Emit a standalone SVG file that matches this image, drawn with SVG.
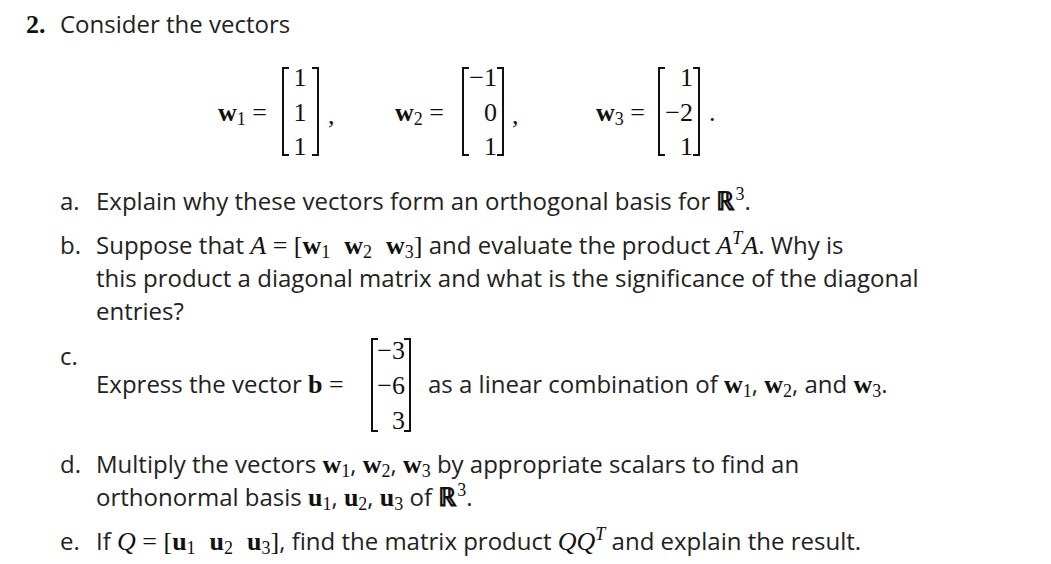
<svg xmlns="http://www.w3.org/2000/svg" width="1051" height="564" viewBox="0 0 1051 564">
<style>
.t{font-family:"Open Sans",sans-serif;font-size:24px;fill:#222}
.m{font-family:"Liberation Serif","DejaVu Serif",serif;font-size:26px;fill:#111}
.mi{font-family:"Liberation Serif","DejaVu Serif",serif;font-size:26px;font-style:italic;fill:#111}
.b{font-weight:bold}
.s{font-size:18px;font-weight:normal}
.sub{baseline-shift:-4px}
.br{fill:none;stroke:#111;stroke-width:2}
</style>
<rect width="1051" height="564" fill="#fff"/>
<text x="26" y="33" class="m b">2.</text>
<text x="60" y="33" class="t">Consider the vectors</text>

<g id="w1">
<text x="218" y="121" class="m b">w<tspan class="s sub">1</tspan><tspan font-weight="normal"> =</tspan></text>
<path class="br" d="M289,68 h-6 v87 h6 M312,68 h6 v87 h-6"/>
<text x="300" y="86" class="m" text-anchor="middle">1</text>
<text x="300" y="121" class="m" text-anchor="middle">1</text>
<text x="300" y="155" class="m" text-anchor="middle">1</text>
<text x="328" y="124" class="m">,</text>
</g>
<g id="w2">
<text x="395" y="121" class="m b">w<tspan class="s sub">2</tspan><tspan font-weight="normal"> =</tspan></text>
<path class="br" d="M469,68 h-6 v87 h6 M497,68 h6 v87 h-6"/>
<text x="497" y="86" class="m" text-anchor="end">−1</text>
<text x="497" y="121" class="m" text-anchor="end">0</text>
<text x="497" y="155" class="m" text-anchor="end">1</text>
<text x="512" y="124" class="m">,</text>
</g>
<g id="w3">
<text x="596" y="121" class="m b">w<tspan class="s sub">3</tspan><tspan font-weight="normal"> =</tspan></text>
<path class="br" d="M665,68 h-6 v87 h6 M693,68 h6 v87 h-6"/>
<text x="693" y="86" class="m" text-anchor="end">1</text>
<text x="693" y="121" class="m" text-anchor="end">−2</text>
<text x="693" y="155" class="m" text-anchor="end">1</text>
<text x="709" y="121" class="m">.</text>
</g>

<text x="60" y="210" class="t">a.</text>
<text x="96" y="210" class="t">Explain why these vectors form an orthogonal basis for <tspan class="m b">ℝ</tspan><tspan class="m s" dy="-10">3</tspan><tspan dy="10">.</tspan></text>

<text x="60" y="254" class="t">b.</text>
<text x="96" y="254" class="t">Suppose that <tspan class="mi">A</tspan><tspan class="m"> = [</tspan><tspan class="m b">w</tspan><tspan class="m s sub">1</tspan><tspan class="m b" dx="14">w</tspan><tspan class="m s sub">2</tspan><tspan class="m b" dx="14">w</tspan><tspan class="m s sub">3</tspan><tspan class="m">]</tspan> and evaluate the product <tspan class="mi">A</tspan><tspan class="mi s" dy="-10">T</tspan><tspan class="mi" dy="10">A</tspan>. Why is</text>
<text x="96" y="287" class="t">this product a diagonal matrix and what is the significance of the diagonal</text>
<text x="96" y="320" class="t">entries?</text>

<text x="60" y="365" class="t">c.</text>
<g id="b">
<text x="96" y="393" class="t">Express the vector <tspan class="m b">b</tspan><tspan class="m"> =</tspan></text>
<path class="br" d="M378,339 h-6 v92 h6 M404,339 h6 v92 h-6"/>
<text x="405" y="359" class="m" text-anchor="end">−3</text>
<text x="405" y="394" class="m" text-anchor="end">−6</text>
<text x="405" y="429" class="m" text-anchor="end">3</text>
<text x="428" y="393" class="t">as a linear combination of <tspan class="m b">w</tspan><tspan class="m s sub">1</tspan>, <tspan class="m b">w</tspan><tspan class="m s sub">2</tspan>, and <tspan class="m b">w</tspan><tspan class="m s sub">3</tspan>.</text>
</g>

<text x="60" y="473" class="t">d.</text>
<text x="96" y="473" class="t">Multiply the vectors <tspan class="m b">w</tspan><tspan class="m s sub">1</tspan>, <tspan class="m b">w</tspan><tspan class="m s sub">2</tspan>, <tspan class="m b">w</tspan><tspan class="m s sub">3</tspan> by appropriate scalars to find an</text>
<text x="96" y="506" class="t">orthonormal basis <tspan class="m b">u</tspan><tspan class="m s sub">1</tspan>, <tspan class="m b">u</tspan><tspan class="m s sub">2</tspan>, <tspan class="m b">u</tspan><tspan class="m s sub">3</tspan> of <tspan class="m b">ℝ</tspan><tspan class="m s" dy="-10">3</tspan><tspan dy="10">.</tspan></text>

<text x="60" y="550" class="t">e.</text>
<text x="96" y="550" class="t">If <tspan class="mi">Q</tspan><tspan class="m"> = [</tspan><tspan class="m b">u</tspan><tspan class="m s sub">1</tspan><tspan class="m b" dx="14">u</tspan><tspan class="m s sub">2</tspan><tspan class="m b" dx="14">u</tspan><tspan class="m s sub">3</tspan><tspan class="m">]</tspan>, find the matrix product <tspan class="mi">QQ</tspan><tspan class="mi s" dy="-10">T</tspan><tspan dy="10"> and explain the result.</tspan></text>
</svg>
